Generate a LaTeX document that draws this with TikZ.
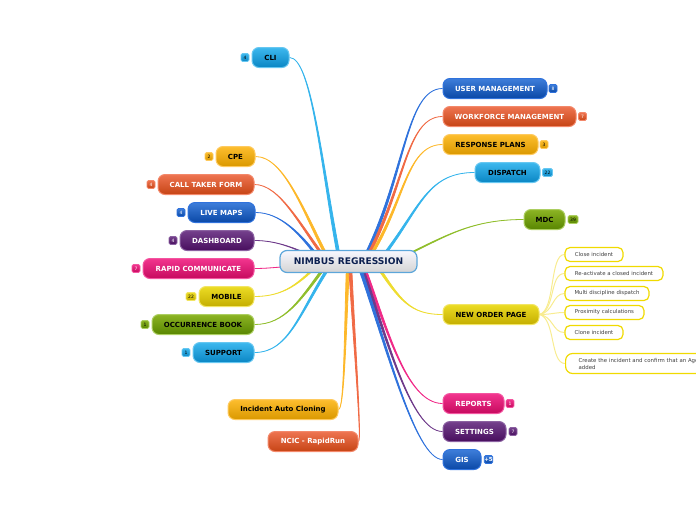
\documentclass[tikz,border=0pt]{standalone}
\usepackage{fontspec}
\setmainfont{DejaVu Sans}
\usetikzlibrary{backgrounds,calc}

\definecolor{cyanTop}{HTML}{3DB8EE}
\definecolor{cyanBot}{HTML}{0A86C4}
\definecolor{cyanLine}{HTML}{35B4EC}
\definecolor{blueTop}{HTML}{3E7EDA}
\definecolor{blueBot}{HTML}{0A48A6}
\definecolor{blueLine}{HTML}{2F72DC}
\definecolor{redTop}{HTML}{EE7450}
\definecolor{redBot}{HTML}{C64414}
\definecolor{redLine}{HTML}{F06A45}
\definecolor{amberTop}{HTML}{FDBE2E}
\definecolor{amberBot}{HTML}{DA9800}
\definecolor{amberLine}{HTML}{FDB82A}
\definecolor{purpleTop}{HTML}{74408C}
\definecolor{purpleBot}{HTML}{480E5E}
\definecolor{purpleLine}{HTML}{6E3A8A}
\definecolor{pinkTop}{HTML}{F2348E}
\definecolor{pinkBot}{HTML}{C60A5E}
\definecolor{pinkLine}{HTML}{F02A88}
\definecolor{yellowTop}{HTML}{ECDC24}
\definecolor{yellowBot}{HTML}{C4AE00}
\definecolor{yellowLine}{HTML}{EEDC30}
\definecolor{greenTop}{HTML}{8CB424}
\definecolor{greenBot}{HTML}{588600}
\definecolor{greenLine}{HTML}{90BE2C}
\definecolor{subLine}{HTML}{F8EC90}
\definecolor{subEdge}{HTML}{F0DA00}
\definecolor{rootEdge}{HTML}{5CA6DA}
\definecolor{rootText}{HTML}{0C2050}

\tikzset{
  topic/.style={rounded corners=7, minimum height=20, inner sep=0, line width=1, font=\fontsize{7}{8}\selectfont\bfseries},
  badge/.style={rounded corners=1.5, minimum width=8, minimum height=8, inner sep=0, line width=.8, font=\fontsize{4.5}{5}\selectfont},
  subtopic/.style={rounded corners=5, draw=subEdge, line width=1.2, fill=white, minimum height=14, inner sep=0, text=black!75, font=\fontsize{5.4}{7}\selectfont},
  cyanbox/.style={top color=cyanTop, bottom color=cyanBot, draw=cyanLine!75!white, text=black},
  bluebox/.style={top color=blueTop, bottom color=blueBot, draw=blueLine, text=white},
  redbox/.style={top color=redTop, bottom color=redBot, draw=redLine!80!white, text=white},
  amberbox/.style={top color=amberTop, bottom color=amberBot, draw=amberLine!75!white, text=black},
  purplebox/.style={top color=purpleTop, bottom color=purpleBot, draw=purpleLine!80!white, text=white},
  pinkbox/.style={top color=pinkTop, bottom color=pinkBot, draw=pinkLine!80!white, text=white},
  yellowbox/.style={top color=yellowTop, bottom color=yellowBot, draw=yellowLine!75!white, text=black},
  greenbox/.style={top color=greenTop, bottom color=greenBot, draw=greenLine!75!white, text=black},
}

% tapered connector: colour, start, control, control, end
\newcommand{\branch}[5]{\path[fill=#1, draw=#1, line width=.8] ($(#2)+(-1.5,0)$) .. controls ($(#3)+(-1,0)$) and (#4) .. (#5) .. controls (#4) and ($(#3)+(1,0)$) .. ($(#2)+(1.5,0)$) -- cycle;}
% box from its left and right edge
\newcommand{\topicbox}[6]{\node[topic, #1, minimum width=#4-#3] (#2) at ({(#3+#4)/2}, #5) {#6};}

\begin{document}
\begin{tikzpicture}[x=1pt, y=-1pt]

    \useasboundingbox (0, -0.5) rectangle (696, 519.5);

    % Centre
    \node[rounded corners=7, minimum width=137, minimum height=22, inner sep=0, line width=1.2, top color=blue!3!white, bottom color=black!17, draw=rootEdge, text=rootText, font=\fontsize{9.1}{10}\selectfont\bfseries] (root) at (348.5, 261) {NIMBUS REGRESSION};

    % Left side
    \topicbox{cyanbox}{cli}{252}{289}{57}{CLI}
    \topicbox{amberbox}{cpe}{216}{255}{156}{CPE}
    \topicbox{redbox}{calltaker}{158}{254}{184}{CALL TAKER FORM}
    \topicbox{bluebox}{livemaps}{188}{255}{212}{LIVE MAPS}
    \topicbox{purplebox}{dashboard}{180}{254}{240}{DASHBOARD}
    \topicbox{pinkbox}{rapid}{143}{254}{268}{RAPID COMMUNICATE}
    \topicbox{yellowbox}{mobile}{199}{254}{296}{MOBILE}
    \topicbox{greenbox}{occurrence}{152}{254}{324}{OCCURRENCE BOOK}
    \topicbox{cyanbox}{support}{193}{254}{352}{SUPPORT}
    \topicbox{amberbox}{cloning}{228}{338}{409}{Incident Auto Cloning}
    \topicbox{redbox}{ncic}{268}{358}{441}{NCIC - RapidRun}

    % Right side
    \topicbox{bluebox}{usermgmt}{443}{547}{88}{USER MANAGEMENT}
    \topicbox{redbox}{workforce}{443}{576}{116}{WORKFORCE MANAGEMENT}
    \topicbox{amberbox}{response}{443}{538}{144}{RESPONSE PLANS}
    \topicbox{cyanbox}{dispatch}{475}{540}{172}{DISPATCH}
    \topicbox{greenbox}{mdc}{524}{565}{219}{MDC}
    \topicbox{yellowbox}{neworder}{443}{539}{314}{NEW ORDER PAGE}
    \topicbox{pinkbox}{reports}{443}{504}{403}{REPORTS}
    \topicbox{purplebox}{settings}{443}{506}{431}{SETTINGS}
    \topicbox{bluebox}{gis}{443}{481}{459}{GIS}

    % Small counters
    \node[badge, cyanbox] (bcli) at (245, 57) {4};
    \node[badge, amberbox] (bcpe) at (209, 156) {2};
    \node[badge, redbox] (bcall) at (151, 184) {4};
    \node[badge, bluebox] (blive) at (181, 212) {4};
    \node[badge, purplebox] (bdash) at (173, 240) {4};
    \node[badge, pinkbox] (brapid) at (136, 268) {7};
    \node[badge, yellowbox, minimum width=10] (bmobile) at (191, 296) {22};
    \node[badge, greenbox] (bocc) at (145, 324) {1};
    \node[badge, cyanbox] (bsupport) at (186, 352) {1};
    \node[badge, bluebox] (buser) at (553, 88) {8};
    \node[badge, redbox] (bwork) at (582.5, 116) {7};
    \node[badge, amberbox] (bresp) at (544, 144) {3};
    \node[badge, cyanbox, minimum width=10] (bdisp) at (547.5, 172) {22};
    \node[badge, greenbox, minimum width=10] (bmdc) at (573, 219) {39};
    \node[badge, pinkbox] (brep) at (510, 403) {1};
    \node[badge, purplebox] (bsett) at (513, 431) {7};
    \node[badge, bluebox, font=\fontsize{5.5}{6}\selectfont\bfseries] (bgis) at (488.5, 459) {+5};

    % Details of the new order page
    \node[subtopic, minimum width=58] (close) at (594, 254) {Close incident};
    \node[subtopic, minimum width=98] (reactivate) at (614, 273) {Re-activate a closed incident};
    \node[subtopic, minimum width=84] (multi) at (607, 293) {Multi discipline dispatch};
    \node[subtopic, minimum width=79] (proximity) at (604.5, 312) {Proximity calculations};
    \node[subtopic, minimum width=58] (clone) at (594, 332) {Clone incident};
    \node[subtopic, rounded corners=7, minimum height=20, align=left, text width=190, inner xsep=13, anchor=west] (create) at (565, 363) {Create the incident and confirm that an Agency can be\\added};

    \begin{scope}[on background layer]
        % Upper left
        \branch{cyanLine}{340,262}{322,170}{312,57}{cli.east}
        \branch{amberLine}{330,262}{305,215}{285,156}{cpe.east}
        \branch{redLine}{328,262}{300,225}{280,184}{calltaker.east}
        \branch{blueLine}{322,262}{300,232}{280,212}{livemaps.east}
        \branch{purpleLine}{325,262}{300,250}{280,240}{dashboard.east}
        \branch{pinkLine}{330,262}{300,264}{275,268}{rapid.east}
        % Lower left
        \branch{yellowLine}{320,262}{300,282}{285,296}{mobile.east}
        \branch{greenLine}{328,262}{300,300}{285,324}{occurrence.east}
        \branch{cyanLine}{332,262}{300,310}{290,352}{support.east}
        \branch{amberLine}{348,262}{345,340}{344,409}{cloning.east}
        \branch{redLine}{350,262}{354,340}{362,441}{ncic.east}
        % Upper right
        \branch{blueLine}{362,262}{405,180}{405,88}{usermgmt.west}
        \branch{redLine}{364,262}{405,190}{405,116}{workforce.west}
        \branch{amberLine}{366,262}{405,205}{405,144}{response.west}
        \branch{cyanLine}{378,262}{420,210}{425,172}{dispatch.west}
        \branch{greenLine}{390,262}{440,240}{465,219}{mdc.west}
        % Lower right
        \branch{yellowLine}{375,262}{400,300}{410,314}{neworder.west}
        \branch{pinkLine}{362,262}{385,320}{405,403}{reports.west}
        \branch{purpleLine}{360,262}{385,330}{410,431}{settings.west}
        \branch{blueLine}{358,262}{385,340}{415,459}{gis.west}
        % New order page details
        \draw[subLine, line width=1] (neworder.east) .. controls +(16,-4) and +(-15,0) .. (close.west);
        \draw[subLine, line width=1] (neworder.east) .. controls +(16,-4) and +(-15,0) .. (reactivate.west);
        \draw[subLine, line width=1] (neworder.east) .. controls +(14,-2) and +(-12,0) .. (multi.west);
        \draw[subLine, line width=1] (neworder.east) .. controls +(12,0) and +(-10,0) .. (proximity.west);
        \draw[subLine, line width=1] (neworder.east) .. controls +(14,2) and +(-12,0) .. (clone.west);
        \draw[subLine, line width=1] (neworder.east) .. controls +(16,4) and +(-15,0) .. (create.west);
    \end{scope}

\end{tikzpicture}
\end{document}
